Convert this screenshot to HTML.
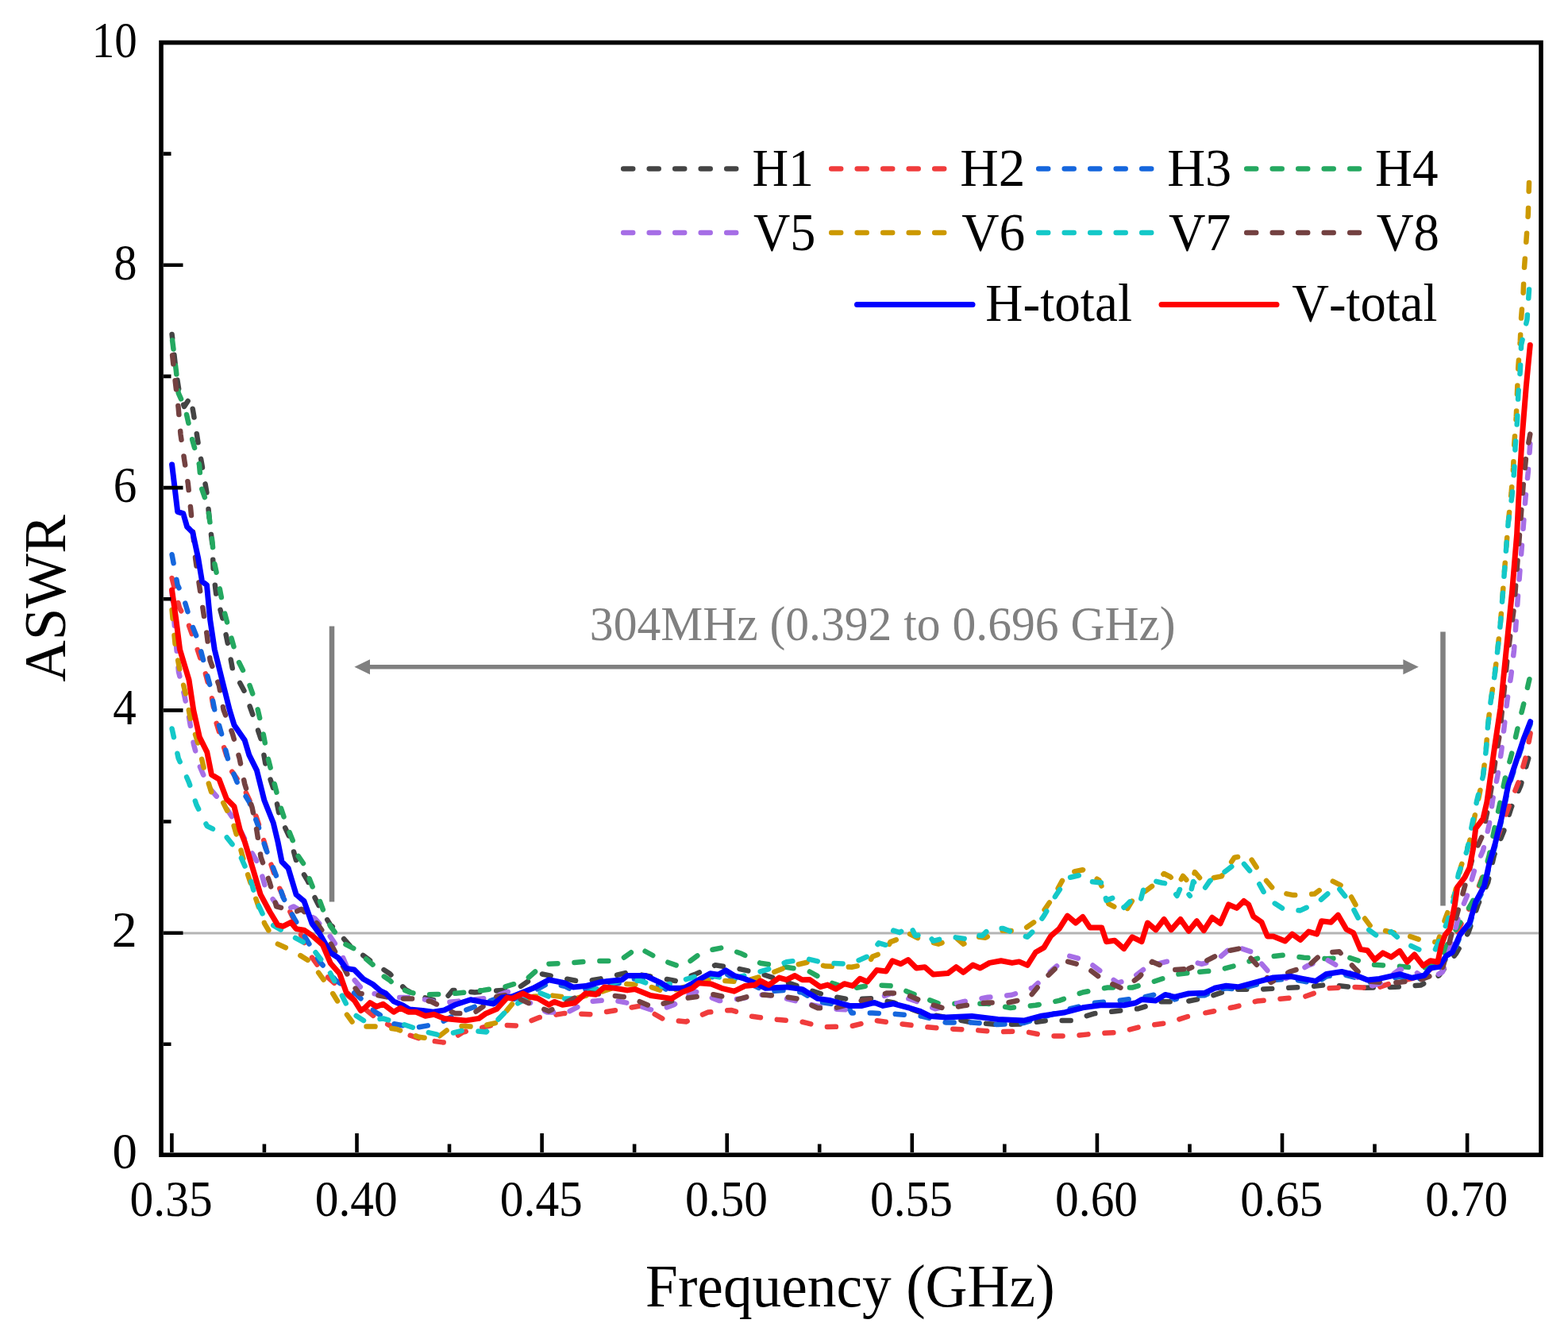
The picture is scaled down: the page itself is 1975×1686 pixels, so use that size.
<!DOCTYPE html>
<html><head><meta charset="utf-8"><title>ASWR vs Frequency</title>
<style>
html,body{margin:0;padding:0;background:#fff;}
body{width:1975px;height:1686px;overflow:hidden;}
svg{display:block;filter:blur(0.55px);}
text{font-family:"Liberation Serif","Times New Roman",serif;font-kerning:none;}
</style></head><body>
<svg width="1975" height="1686" viewBox="0 0 1975 1686">
<rect x="0" y="0" width="1975" height="1686" fill="#ffffff"/>
<defs><clipPath id="clipA"><rect x="206" y="56" width="1732" height="1395"/></clipPath></defs>

<line x1="206" y1="1175" x2="1938" y2="1175" stroke="#b4b4b4" stroke-width="3"/>
<g stroke="#808080" fill="none">
<line x1="418" y1="788.5" x2="418" y2="1135.5" stroke-width="6.5"/>
<line x1="1817.5" y1="795.5" x2="1817.5" y2="1140.5" stroke-width="6.5"/>
<line x1="462" y1="839.8" x2="1771" y2="839.8" stroke-width="5.5"/>
</g>
<path d="M446.4,839.8 L466,830.3 L466,849.3 Z" fill="#808080"/>
<path d="M1786.8,839.8 L1767.4,830.3 L1767.4,849.3 Z" fill="#808080"/>
<text transform="translate(742.85,806.20) scale(0.9688,1)" font-size="61.5" fill="#808080">304MHz (0.392 to 0.696 GHz)</text>
<g fill="none" stroke-linejoin="round" clip-path="url(#clipA)">
<polyline points="216.6,421.0 222.0,470.0 226.0,495.0 232.0,512.0 240.0,500.0 243.6,520.0 249.8,558.9 260.5,620.6 264.0,656.1 267.6,687.0 268.8,720.2 272.3,748.6 280.6,779.4 287.3,812.3 293.0,842.7 308.2,871.1 319.6,903.4 329.1,931.9 334.8,964.2 346.2,998.4 351.9,1026.8 365.2,1055.3 373.7,1085.7 388.0,1109.8 391.3,1119.8 402.9,1143.0 416.2,1164.6 422.9,1170.4 439.5,1189.5 466.0,1209.4 490.9,1226.0 510.9,1246.0 522.5,1252.6 545.7,1259.2 560.0,1259.2 570.3,1246.9 597.9,1249.5 650.6,1245.6 679.5,1225.8 705.9,1231.1 733.5,1236.4 763.8,1231.1 790.1,1224.5 851.1,1235.0 874.8,1227.1 901.1,1215.3 927.4,1219.2 957.7,1225.8 1013.0,1244.3 1039.7,1253.2 1070.0,1258.5 1099.0,1257.2 1125.3,1262.4 1160.0,1275.0 1224.0,1287.4 1257.0,1290.1 1286.7,1289.5 1317.8,1285.1 1349.0,1285.1 1378.7,1276.2 1405.4,1273.2 1433.5,1270.2 1461.7,1261.3 1492.9,1261.3" stroke="#444444" stroke-width="6.5" stroke-dasharray="11 21" stroke-dashoffset="6" stroke-linecap="round"/>
<polyline points="1492.9,1261.3 1519.3,1256.2 1550.4,1245.8 1583.1,1245.8 1614.2,1244.3 1643.9,1242.8 1673.5,1239.9 1712.0,1244.0 1756.6,1242.8 1789.3,1240.6 1812.5,1228.2 1834.1,1200.5 1849.5,1174.2 1861.8,1138.8 1874.2,1111.0 1881.9,1077.1 1894.2,1046.3 1903.5,1017.0 1915.5,988.9 1925.2,954.9" stroke="#444444" stroke-width="6.5" stroke-dasharray="11 21" stroke-dashoffset="27.49" stroke-linecap="round"/>
<polyline points="216.6,728.0 226.0,765.2 238.0,787.6 249.4,819.9 258.9,848.4 266.5,876.8 272.2,909.1 281.6,939.5 291.1,969.9 308.2,994.6 319.6,1019.2 329.1,1047.7 338.6,1080.0 349.8,1113.1 361.4,1139.7 375.0,1168.0 389.7,1201.1 407.9,1226.0 440.0,1255.0 472.7,1280.8 507.5,1300.7 532.4,1309.0 557.3,1312.4 562.4,1312.7 583.4,1299.5 622.9,1290.3 653.2,1291.6 679.5,1281.1 711.1,1275.9 744.1,1277.2 777.0,1271.9 806.3,1266.6 836.6,1283.8 864.3,1286.4 891.9,1274.5 920.9,1271.9 947.2,1279.8 978.8,1283.8 1009.1,1286.4 1036.7,1293.0 1070.0,1292.7 1101.6,1284.8 1131.9,1288.8 1162.2,1292.7 1192.5,1295.3 1224.0,1296.7 1255.6,1299.3 1288.2,1298.4 1319.3,1304.4 1350.5,1304.4 1380.1,1301.4 1409.8,1299.9 1438.0,1292.5 1470.6,1288.0 1498.8,1279.1" stroke="#f03c3c" stroke-width="6.5" stroke-dasharray="11 21" stroke-dashoffset="0" stroke-linecap="round"/>
<polyline points="1498.8,1279.1 1525.2,1274.0 1554.9,1268.0 1583.1,1260.6 1612.7,1257.7 1643.9,1254.7 1673.5,1244.3 1704.7,1242.8 1732.9,1244.3 1758.5,1235.9 1790.0,1230.0 1820.0,1205.0 1841.8,1160.4 1857.2,1131.1 1880.0,1070.0 1903.5,1007.7 1913.0,984.1 1922.8,950.0 1927.6,923.3" stroke="#f03c3c" stroke-width="6.5" stroke-dasharray="11 21" stroke-dashoffset="12.09" stroke-linecap="round"/>
<polyline points="216.6,698.3 223.7,736.8 230.8,751.0 239.9,781.9 250.3,808.5 257.0,835.1 264.6,863.5 270.3,893.9 279.7,926.2 287.3,956.6 298.7,985.1 313.9,1009.7 325.3,1040.1 334.8,1068.6 348.1,1103.2 356.5,1129.7 371.4,1158.0 388.0,1186.2 402.9,1211.1 422.9,1234.3 449.4,1252.6 472.7,1274.2 495.9,1289.1 522.5,1294.1 552.4,1289.1 579.5,1274.5 632.2,1254.8 645.3,1258.8 658.5,1253.5 671.6,1248.3 691.4,1237.7 711.1,1241.7 721.7,1246.9 737.5,1245.6 757.2,1240.4 783.5,1237.7 790.1,1232.5 812.9,1232.5 832.7,1241.7 843.2,1248.3 861.6,1248.3 880.1,1237.7 894.5,1229.8 905.1,1231.1 914.3,1225.9 924.8,1232.5 938.0,1236.4 951.1,1241.7 964.3,1248.3 990.6,1246.9 1010.4,1249.6 1030.1,1261.4 1046.3,1263.8 1070.0,1270.4 1072.7,1275.6 1099.0,1275.6 1129.3,1276.9 1160.9,1279.5 1191.1,1287.4 1224.0,1287.4 1257.0,1290.1 1289.7,1288.0 1347.5,1270.2 1378.7,1262.8 1409.8,1259.9 1441.0,1255.4 1467.7,1249.5 1479.5,1258.4 1497.3,1254.0" stroke="#1566dd" stroke-width="6.5" stroke-dasharray="11 21" stroke-dashoffset="0" stroke-linecap="round"/>
<polyline points="1497.3,1254.0 1517.8,1253.2 1529.7,1247.3 1544.5,1244.3 1559.3,1245.8 1581.6,1239.9 1603.8,1234.0 1626.1,1232.5 1640.9,1235.4 1657.2,1238.4 1670.6,1229.5 1689.9,1226.5 1707.7,1231.0 1722.5,1236.9 1737.3,1235.4 1763.1,1229.7 1778.6,1234.3 1794.0,1231.2 1801.7,1222.0 1812.5,1220.4 1821.7,1206.5 1829.4,1201.9 1838.7,1180.3 1851.0,1164.9 1858.7,1138.7 1869.5,1118.7 1875.7,1090.9 1883.4,1064.7 1891.1,1033.8 1899.7,991.9 1909.4,962.7 1919.1,933.6 1927.6,911.7" stroke="#1566dd" stroke-width="6.5" stroke-dasharray="11 21" stroke-dashoffset="18.93" stroke-linecap="round"/>
<polyline points="217.1,428.5 221.8,466.4 224.7,494.9 233.2,513.9 241.7,551.8 251.0,585.0 253.4,613.4 261.7,637.2 266.4,672.7 270.0,708.3 275.9,736.8 281.8,767.6 289.2,795.2 298.7,829.4 312.0,856.0 323.4,888.2 331.0,920.5 336.7,950.9 344.3,981.3 351.9,1011.6 361.4,1040.1 371.4,1065.0 374.7,1076.6 386.3,1093.2 389.7,1106.5 396.3,1123.1 402.9,1134.7 409.6,1153.0 416.2,1166.3 426.2,1179.5 432.8,1187.8 449.4,1196.1 459.4,1206.1 469.4,1214.4 476.0,1224.4 490.9,1234.3 499.2,1242.6 515.8,1249.3 529.1,1252.6 550.0,1252.0 574.2,1250.8 608.5,1246.9 634.8,1242.9 661.1,1235.0 684.8,1214.0 715.1,1212.7 746.7,1210.0 780.0,1210.0 803.7,1192.9 832.7,1208.7 859.0,1217.9 885.3,1198.2 911.6,1192.9 934.0,1200.8 957.7,1212.7 1017.0,1221.9 1038.0,1233.7 1050.3,1238.7 1070.0,1245.3 1099.0,1240.1 1125.3,1241.4 1154.3,1253.2 1183.2,1263.8 1243.8,1263.8 1272.8,1269.0 1304.5,1265.8 1334.2,1259.9 1363.8,1249.5 1395.0,1243.5 1426.1,1243.5 1452.8,1236.1 1479.5,1227.2 1503.2,1224.3" stroke="#24a860" stroke-width="6.5" stroke-dasharray="11 21" stroke-dashoffset="0" stroke-linecap="round"/>
<polyline points="1503.2,1224.3 1532.6,1222.0 1560.8,1214.6 1587.5,1205.7 1615.7,1202.8 1642.4,1205.7 1670.6,1207.2 1698.8,1205.7 1726.9,1214.6 1755.1,1216.1 1786.3,1219.0 1800.0,1218.0 1815.0,1205.0 1828.0,1180.0 1840.0,1160.0 1855.0,1135.0 1868.0,1104.9 1875.7,1077.1 1883.4,1038.6 1889.9,1008.4 1896.0,979.2 1904.5,947.6 1911.8,916.0 1919.1,886.8 1926.4,855.2" stroke="#24a860" stroke-width="6.5" stroke-dasharray="11 21" stroke-dashoffset="23.93" stroke-linecap="round"/>
<polyline points="216.6,745.0 220.0,790.0 225.0,846.0 231.6,872.7 238.2,904.3 244.0,937.5 251.3,964.2 262.7,990.8 283.5,1015.4 300.0,1040.0 315.0,1070.0 326.6,1089.9 334.9,1119.8 354.8,1148.0 369.7,1141.4 396.3,1156.3 412.9,1174.6 429.5,1199.5 441.1,1227.7 459.4,1249.3 502.6,1255.9 522.5,1255.9 555.7,1263.0 619.0,1256.1 641.4,1248.2 688.8,1274.5 715.1,1274.5 740.1,1261.4 767.8,1258.7 796.7,1264.0 826.1,1273.2 848.5,1265.3 874.8,1248.2 906.4,1260.1 932.7,1257.4 963.0,1252.2 990.6,1257.4 1017.0,1264.0 1046.3,1270.3 1071.3,1271.6 1099.0,1259.8 1122.7,1250.6 1151.6,1259.8 1178.0,1270.3 1213.5,1261.1 1243.8,1255.8 1274.5,1252.8 1301.5,1243.5 1325.3,1221.3 1346.0,1203.5 1368.3,1209.4 1386.1,1222.8 1408.3,1237.6 1426.1,1231.7 1445.4,1216.8 1469.1,1210.9 1489.9,1207.9" stroke="#a66ee6" stroke-width="6.5" stroke-dasharray="11 21" stroke-dashoffset="0" stroke-linecap="round"/>
<polyline points="1489.9,1207.9 1513.6,1213.9 1532.6,1208.7 1553.4,1190.9 1575.6,1198.3 1596.4,1222.0 1620.0,1232.0 1646.8,1216.1 1669.1,1207.2 1700.0,1225.0 1728.4,1241.3 1740.0,1237.5 1763.1,1220.5 1780.1,1222.0 1798.6,1234.4 1817.1,1223.6 1829.4,1185.0 1837.1,1154.2 1847.9,1128.0 1857.2,1095.6 1868.0,1070.9 1875.7,1038.6 1880.3,1006.2 1886.3,976.8 1891.2,945.2 1894.8,913.6 1898.4,882.0 1903.3,850.4 1907.0,818.8 1909.4,787.2 1911.8,753.1 1914.2,721.5 1916.7,689.9 1919.1,658.3 1921.5,626.7 1924.8,594.0 1927.3,559.1" stroke="#a66ee6" stroke-width="6.5" stroke-dasharray="11 21" stroke-dashoffset="12.60" stroke-linecap="round"/>
<polyline points="216.6,768.0 218.0,783.8 220.9,814.2 226.6,844.6 234.2,874.9 239.9,905.3 249.4,935.7 257.0,968.0 266.5,998.4 279.7,1007.8 293.0,1034.4 302.5,1066.7 310.0,1094.9 321.6,1129.7 333.2,1162.9 348.1,1187.8 369.7,1197.8 391.3,1211.1 412.9,1241.0 429.5,1267.5 447.8,1292.4 471.0,1292.4 499.2,1295.8 527.5,1305.7 547.9,1308.8 570.3,1291.6 601.9,1293.0 625.6,1287.7 645.3,1264.0 671.6,1254.8 695.3,1253.5 724.3,1257.4 760.0,1248.0 787.5,1239.0 812.9,1240.3 839.2,1249.5 891.9,1233.7 911.6,1235.0 935.3,1236.4 966.9,1227.1 990.6,1217.9 1018.3,1211.3 1040.0,1216.6 1072.7,1217.7 1093.7,1213.7 1099.0,1204.5 1116.1,1197.9 1121.4,1186.1 1135.9,1180.8 1142.4,1174.2 1158.2,1182.1 1181.9,1188.7 1204.3,1180.8 1213.5,1188.7 1230.6,1179.5 1241.2,1180.8 1257.0,1171.6 1286.7,1172.3 1307.5,1157.5 1326.7,1129.3 1343.1,1099.7 1363.8,1095.2 1384.6,1108.6 1396.5,1138.2 1417.2,1148.6 1429.1,1129.3 1441.0,1123.4 1455.0,1113.0 1466.0,1100.0 1474.0,1104.0 1484.0,1114.0 1490.0,1103.0 1500.0,1114.0" stroke="#cc9900" stroke-width="6.5" stroke-dasharray="11 21" stroke-dashoffset="0" stroke-linecap="round"/>
<polyline points="1500.0,1114.0 1505.0,1098.0 1515.0,1110.0 1522.2,1106.4 1538.6,1103.4 1554.9,1079.7 1572.7,1076.7 1589.0,1101.9 1606.8,1122.7 1629.0,1127.1 1655.7,1125.6 1678.0,1109.3 1695.8,1118.2 1710.6,1144.9 1726.9,1167.2 1749.2,1173.1 1770.8,1177.3 1789.3,1183.5 1810.9,1186.6 1820.2,1157.3 1832.5,1124.9 1840.2,1091.0 1851.0,1060.1 1857.2,1029.3 1863.4,1000.0 1868.1,976.8 1871.7,945.2 1874.1,913.6 1877.8,882.0 1882.6,850.4 1886.3,818.8 1889.9,784.7 1892.4,753.1 1894.8,721.5 1897.2,689.9 1899.7,658.3 1903.6,620.4 1906.1,589.0 1907.3,559.1 1909.8,524.2 1911.1,491.8 1912.3,461.8 1914.8,429.4 1916.1,399.5 1918.6,369.6 1919.8,339.7 1922.3,304.7 1924.8,269.8 1926.0,229.9" stroke="#cc9900" stroke-width="6.5" stroke-dasharray="11 21" stroke-dashoffset="16.84" stroke-linecap="round"/>
<polyline points="216.6,917.5 224.7,954.7 238.0,985.1 247.5,1013.5 260.8,1040.1 283.5,1051.5 301.0,1074.0 314.9,1104.8 323.2,1134.7 334.9,1159.6 363.1,1176.2 391.3,1191.2 412.9,1219.4 429.5,1250.9 441.1,1274.2 459.4,1285.8 482.6,1282.5 505.9,1289.1 535.8,1299.1 556.0,1304.0 586.1,1296.9 612.4,1299.5 634.8,1275.9 653.2,1262.7 678.2,1249.5 698.0,1257.4 724.3,1257.4 750.6,1245.6 783.5,1233.7 806.3,1235.0 830.0,1242.9 885.3,1227.1 918.2,1232.4 944.6,1227.1 966.9,1220.6 990.6,1211.3 1017.0,1207.4 1040.0,1212.7 1071.3,1213.7 1092.4,1204.5 1106.9,1187.4 1116.1,1190.0 1125.3,1171.6 1133.2,1174.2 1146.4,1165.0 1153.0,1178.2 1168.8,1175.5 1175.3,1184.8 1197.7,1179.5 1216.2,1182.1 1221.4,1176.9 1237.2,1178.2 1246.4,1169.0 1263.5,1169.0 1274.8,1173.8 1294.1,1179.8 1301.5,1172.3 1314.9,1153.1 1329.7,1127.8 1344.5,1105.6 1363.8,1101.1 1372.7,1110.0 1387.6,1111.5 1393.5,1133.8 1405.4,1129.3 1415.7,1142.7 1423.2,1135.3 1435.0,1139.7 1440.0,1121.0 1453.0,1109.0 1463.2,1111.5 1472.0,1113.0 1482.5,1128.0 1488.4,1114.5 1498.8,1128.0" stroke="#14c8c8" stroke-width="6.5" stroke-dasharray="11 21" stroke-dashoffset="0" stroke-linecap="round"/>
<polyline points="1498.8,1128.0 1503.0,1110.0 1515.0,1122.0 1523.7,1109.3 1543.0,1097.5 1562.3,1082.6 1581.6,1104.9 1596.4,1131.6 1617.2,1144.9 1637.9,1146.4 1660.2,1136.0 1683.9,1115.3 1700.2,1136.0 1715.1,1164.2 1737.3,1180.5 1752.2,1173.1 1767.8,1186.6 1787.8,1195.8 1807.8,1195.8 1818.6,1171.2 1823.3,1160.4 1831.0,1132.6 1837.1,1100.2 1847.9,1070.9 1854.1,1038.6 1860.3,1007.7 1868.1,976.8 1871.7,945.2 1874.1,913.6 1877.8,882.0 1882.6,850.4 1886.3,818.8 1889.9,784.7 1892.4,753.1 1894.8,721.5 1897.2,689.9 1899.7,658.3 1904.5,624.3 1907.3,591.5 1908.6,561.6 1911.1,529.2 1912.3,496.8 1914.8,466.8 1916.1,434.4 1923.5,402.0 1926.0,364.6" stroke="#14c8c8" stroke-width="6.5" stroke-dasharray="11 21" stroke-dashoffset="23.08" stroke-linecap="round"/>
<polyline points="217.1,447.4 220.9,481.6 224.7,513.9 227.5,547.1 232.0,577.9 236.8,608.7 240.3,641.9 246.2,703.6 251.0,736.8 255.7,767.6 260.5,798.4 264.6,831.3 276.0,863.5 281.6,893.9 293.0,924.3 301.6,954.7 308.2,987.0 317.7,1017.3 323.4,1045.8 328.5,1079.0 339.8,1111.5 348.1,1141.4 373.1,1148.0 379.7,1144.7 399.6,1162.9 414.6,1184.5 446.1,1242.6 452.7,1250.9 472.7,1252.6 499.2,1257.6 524.1,1257.6 543.0,1261.0 572.9,1275.9 596.6,1275.9 625.6,1254.8 642.7,1252.2 667.7,1264.0 691.4,1273.2 737.5,1249.5 793.5,1256.1 822.1,1268.0 851.1,1258.7 898.5,1252.2 928.8,1258.7 951.1,1252.2 977.5,1253.5 1003.8,1257.4 1030.1,1269.3 1052.9,1269.0 1085.8,1259.8 1099.0,1258.5 1116.1,1250.6 1138.5,1250.6 1164.8,1262.4 1191.1,1270.3 1213.5,1266.4 1243.8,1262.4 1270.1,1262.4 1295.6,1256.9 1316.4,1231.7 1340.1,1209.4 1366.8,1216.8 1390.5,1234.6 1414.3,1245.0 1435.0,1230.2 1451.3,1210.9 1475.1,1221.3 1497.3,1219.8" stroke="#734141" stroke-width="6.5" stroke-dasharray="11 21" stroke-dashoffset="0" stroke-linecap="round"/>
<polyline points="1497.3,1219.8 1518.1,1210.5 1541.5,1198.3 1563.8,1193.9 1581.6,1213.2 1600.9,1236.9 1624.6,1223.5 1648.3,1216.1 1666.1,1199.8 1686.9,1198.3 1707.7,1220.6 1722.5,1235.4 1750.0,1238.0 1786.3,1234.4 1807.8,1226.7 1817.1,1219.0 1830.0,1170.0 1846.4,1111.0 1855.7,1077.1 1866.4,1054.0 1874.2,1018.5 1879.0,988.9 1883.9,954.9 1888.7,925.7 1894.8,867.4 1898.4,830.9 1902.1,801.7 1907.0,765.3 1911.8,702.1 1918.6,611.5 1922.3,574.1 1927.3,546.6" stroke="#734141" stroke-width="6.5" stroke-dasharray="11 21" stroke-dashoffset="6.77" stroke-linecap="round"/>
<polyline points="216.6,585.0 223.7,644.3 230.8,646.6 235.6,663.2 242.7,670.4 249.8,703.6 254.5,732.0 260.5,736.8 264.6,780.0 270.3,818.0 279.7,856.0 289.2,894.0 295.0,913.0 308.2,932.0 313.9,950.9 323.4,969.9 332.9,1007.8 344.3,1036.3 350.0,1060.0 355.0,1085.0 363.1,1093.2 373.1,1126.4 383.0,1134.7 393.0,1162.9 402.9,1176.2 416.2,1199.5 426.2,1206.1 436.1,1219.4 446.1,1221.0 457.7,1232.7 469.4,1239.3 479.3,1247.6 486.0,1250.9 495.9,1260.9 507.5,1265.9 515.8,1270.9 532.4,1272.5 545.7,1274.2 559.7,1271.9 572.9,1265.3 592.7,1258.7 605.8,1261.4 621.6,1264.0 632.2,1256.1 645.3,1254.8 658.5,1249.5 671.6,1244.3 691.4,1233.7 711.1,1237.7 721.7,1242.9 737.5,1241.6 757.2,1236.4 783.5,1233.7 790.1,1228.5 812.9,1228.5 832.7,1237.7 843.2,1244.3 861.6,1244.3 880.1,1233.7 894.5,1225.8 905.1,1227.1 914.3,1221.9 924.8,1228.5 938.0,1232.4 951.1,1237.7 964.3,1244.3 990.6,1242.9 1010.4,1245.6 1030.1,1257.4 1046.3,1259.8 1070.0,1266.4 1085.8,1266.4 1101.6,1262.4 1112.2,1266.4 1125.3,1263.8 1145.1,1269.0 1158.2,1273.0 1171.4,1279.5 1191.1,1280.9 1224.0,1279.5 1257.0,1283.5 1289.7,1285.1 1311.9,1279.1 1341.6,1274.7 1363.8,1268.8 1386.1,1265.8 1415.7,1265.8 1430.6,1262.8 1438.0,1258.4 1455.8,1259.9 1467.7,1252.4 1479.5,1255.4 1497.3,1251.0 1517.8,1250.2 1529.7,1244.3 1544.5,1241.3 1559.3,1242.8 1581.6,1236.9 1603.8,1231.0 1626.1,1229.5 1640.9,1232.4 1657.2,1235.4 1670.6,1226.5 1689.9,1223.5 1707.7,1228.0 1722.5,1233.9 1737.3,1232.4 1763.1,1226.7 1778.6,1231.3 1794.0,1228.2 1801.7,1219.0 1812.5,1217.4 1821.7,1203.5 1829.4,1198.9 1838.7,1177.3 1851.0,1161.9 1858.7,1135.7 1869.5,1115.7 1875.7,1087.9 1883.4,1061.7 1891.1,1030.8 1899.7,988.9 1909.4,959.7 1919.1,930.6 1927.6,908.7" stroke="#0000ff" stroke-width="7" stroke-linecap="round"/>
<polyline points="216.6,743.0 221.8,780.0 226.6,818.0 238.0,856.0 243.7,894.0 251.3,928.1 260.8,947.1 266.5,975.6 276.0,981.3 285.4,1006.0 294.9,1015.4 302.5,1045.8 308.3,1060.0 318.3,1093.2 328.2,1126.4 339.8,1148.0 349.8,1164.6 356.5,1166.3 366.4,1161.3 373.1,1169.6 383.0,1171.2 393.0,1177.9 406.3,1189.5 416.2,1212.7 427.8,1226.0 436.1,1249.3 446.1,1259.2 454.4,1272.5 459.4,1269.2 466.0,1262.6 474.3,1267.5 482.6,1264.2 495.9,1274.2 504.2,1269.2 514.2,1274.2 524.1,1274.2 535.8,1279.2 546.6,1277.2 559.7,1282.4 586.1,1285.1 603.2,1282.4 612.4,1275.9 625.6,1270.6 638.7,1256.1 645.3,1257.4 658.5,1250.8 666.4,1254.8 678.2,1257.4 691.4,1265.3 698.0,1261.4 708.5,1265.3 724.3,1262.7 737.5,1250.8 750.6,1252.2 761.2,1242.9 774.3,1244.3 790.1,1246.9 799.7,1245.6 819.5,1253.5 845.8,1257.4 859.0,1249.5 872.2,1244.3 880.1,1237.7 895.9,1239.0 909.0,1244.3 924.8,1248.2 938.0,1241.6 951.1,1240.3 957.7,1235.0 968.3,1240.3 981.4,1231.1 990.6,1233.7 1001.2,1228.5 1010.4,1233.7 1020.0,1233.5 1033.2,1242.7 1042.4,1240.1 1052.9,1245.3 1063.4,1238.7 1074.0,1241.4 1083.2,1232.2 1092.4,1236.1 1104.3,1221.6 1116.1,1222.9 1124.0,1209.8 1134.5,1213.7 1143.8,1208.5 1154.3,1219.0 1164.8,1217.7 1175.3,1226.9 1193.8,1225.6 1204.3,1217.7 1213.5,1224.3 1225.4,1215.0 1234.6,1219.0 1246.4,1212.4 1260.9,1209.8 1274.8,1212.4 1283.7,1210.9 1294.1,1215.4 1304.5,1199.0 1314.9,1193.1 1323.8,1178.3 1334.2,1169.4 1344.5,1153.1 1354.9,1162.0 1363.8,1154.5 1372.7,1167.9 1387.6,1167.9 1393.5,1185.7 1403.9,1184.2 1415.7,1194.6 1426.1,1179.8 1438.0,1185.7 1445.4,1162.0 1455.8,1170.9 1466.2,1157.5 1475.1,1170.9 1486.9,1157.5 1497.3,1172.3 1507.4,1159.8 1516.3,1171.6 1526.7,1155.3 1537.1,1162.7 1547.5,1139.0 1557.8,1143.4 1566.7,1134.5 1572.7,1139.0 1578.6,1153.8 1589.0,1161.2 1596.4,1179.0 1603.8,1179.0 1618.7,1185.0 1627.6,1176.1 1637.9,1183.5 1648.3,1173.1 1658.7,1176.1 1664.6,1159.8 1676.5,1161.2 1685.4,1152.3 1695.8,1170.1 1704.7,1174.6 1713.6,1195.4 1722.5,1196.8 1731.4,1208.7 1741.8,1199.8 1752.3,1205.1 1763.1,1197.4 1772.4,1211.3 1781.6,1202.0 1792.4,1215.9 1801.7,1209.7 1810.9,1211.3 1815.6,1189.7 1820.2,1177.3 1826.4,1169.6 1832.5,1138.8 1835.6,1117.2 1844.9,1104.9 1851.0,1092.5 1855.7,1067.8 1858.7,1043.2 1868.0,1030.8 1872.9,1009.8 1882.6,940.3 1889.9,891.7 1897.2,818.8 1904.5,745.8 1910.6,672.9 1914.2,600.0 1917.3,549.1 1922.3,486.8 1927.3,434.4" stroke="#ff0000" stroke-width="7" stroke-linecap="round"/>
</g>
<rect x="203" y="53.6" width="1738" height="1400.6" fill="none" stroke="#000" stroke-width="5.6"/>
<path d="M216.4,1451 V1427 M332.9,1451 V1440.5 M449.5,1451 V1427 M566.0,1451 V1440.5 M682.6,1451 V1427 M799.1,1451 V1440.5 M915.7,1451 V1427 M1032.2,1451 V1440.5 M1148.8,1451 V1427 M1265.3,1451 V1440.5 M1381.9,1451 V1427 M1498.5,1451 V1440.5 M1615.0,1451 V1427 M1731.5,1451 V1440.5 M1848.1,1451 V1427 M206,1314.8 H215.5 M206,1174.7 H230.5 M206,1034.5 H215.5 M206,894.4 H230.5 M206,754.2 H215.5 M206,614.1 H230.5 M206,473.9 H215.5 M206,333.8 H230.5 M206,193.6 H215.5" stroke="#000" stroke-width="4.6" fill="none"/>
<text transform="translate(163.62,1530.50) scale(0.9510,1)" font-size="62.5" fill="#000">0.35</text>
<text transform="translate(396.69,1530.50) scale(0.9510,1)" font-size="62.5" fill="#000">0.40</text>
<text transform="translate(629.82,1530.50) scale(0.9510,1)" font-size="62.5" fill="#000">0.45</text>
<text transform="translate(862.89,1530.50) scale(0.9510,1)" font-size="62.5" fill="#000">0.50</text>
<text transform="translate(1096.02,1530.50) scale(0.9510,1)" font-size="62.5" fill="#000">0.55</text>
<text transform="translate(1329.09,1530.50) scale(0.9510,1)" font-size="62.5" fill="#000">0.60</text>
<text transform="translate(1562.22,1530.50) scale(0.9510,1)" font-size="62.5" fill="#000">0.65</text>
<text transform="translate(1795.29,1530.50) scale(0.9510,1)" font-size="62.5" fill="#000">0.70</text>
<text transform="translate(141.61,1471.30) scale(1.0042,1)" font-size="62.5" fill="#000">0</text>
<text transform="translate(140.69,1191.50) scale(1.0218,1)" font-size="62.5" fill="#000">2</text>
<text transform="translate(142.15,911.70) scale(0.9431,1)" font-size="62.5" fill="#000">4</text>
<text transform="translate(142.76,631.90) scale(0.9475,1)" font-size="62.5" fill="#000">6</text>
<text transform="translate(143.37,352.10) scale(0.9362,1)" font-size="62.5" fill="#000">8</text>
<text transform="translate(115.69,72.30) scale(0.9116,1)" font-size="62.5" fill="#000">10</text>
<text transform="translate(813.09,1644.90) scale(0.9722,1)" font-size="75.5" fill="#000">Frequency (GHz)</text>
<text transform="translate(82.1,858.81) rotate(-90) scale(0.9720,1)" font-size="75">ASWR</text>
<line x1="785.2" y1="212.4" x2="928.0" y2="212.4" stroke="#444444" stroke-width="6.5" stroke-dasharray="12 20.5" stroke-linecap="round"/>
<text transform="translate(947.58,234.20) scale(0.9360,1)" font-size="67.5" fill="#000">H1</text>
<line x1="1047.2" y1="212.4" x2="1190.0" y2="212.4" stroke="#f03c3c" stroke-width="6.5" stroke-dasharray="12 20.5" stroke-linecap="round"/>
<text transform="translate(1209.26,234.20) scale(0.9957,1)" font-size="67.5" fill="#000">H2</text>
<line x1="1308.2" y1="212.4" x2="1451.0" y2="212.4" stroke="#1566dd" stroke-width="6.5" stroke-dasharray="12 20.5" stroke-linecap="round"/>
<text transform="translate(1470.19,234.20) scale(0.9831,1)" font-size="67.5" fill="#000">H3</text>
<line x1="1570.2" y1="212.4" x2="1712.0" y2="212.4" stroke="#24a860" stroke-width="6.5" stroke-dasharray="12 20.5" stroke-linecap="round"/>
<text transform="translate(1732.03,234.20) scale(0.9636,1)" font-size="67.5" fill="#000">H4</text>
<line x1="785.2" y1="293.0" x2="928.0" y2="293.0" stroke="#a66ee6" stroke-width="6.5" stroke-dasharray="12 20.5" stroke-linecap="round"/>
<text transform="translate(948.88,315.30) scale(0.9507,1)" font-size="67.5" fill="#000">V5</text>
<line x1="1047.2" y1="293.0" x2="1190.0" y2="293.0" stroke="#cc9900" stroke-width="6.5" stroke-dasharray="12 20.5" stroke-linecap="round"/>
<text transform="translate(1211.17,315.30) scale(0.9695,1)" font-size="67.5" fill="#000">V6</text>
<line x1="1308.2" y1="293.0" x2="1451.0" y2="293.0" stroke="#14c8c8" stroke-width="6.5" stroke-dasharray="12 20.5" stroke-linecap="round"/>
<text transform="translate(1471.88,315.30) scale(0.9537,1)" font-size="67.5" fill="#000">V7</text>
<line x1="1570.2" y1="293.0" x2="1712.0" y2="293.0" stroke="#734141" stroke-width="6.5" stroke-dasharray="12 20.5" stroke-linecap="round"/>
<text transform="translate(1733.67,315.30) scale(0.9613,1)" font-size="67.5" fill="#000">V8</text>
<line x1="1079.5" y1="383.4" x2="1225" y2="383.4" stroke="#0000ff" stroke-width="7" stroke-linecap="round"/>
<text transform="translate(1241.32,404.20) scale(0.9665,1)" font-size="67.5" fill="#000">H-total</text>
<line x1="1463" y1="383.4" x2="1608" y2="383.4" stroke="#ff0000" stroke-width="7" stroke-linecap="round"/>
<text transform="translate(1627.27,404.20) scale(0.9578,1)" font-size="67.5" fill="#000">V-total</text>
</svg></body></html>
